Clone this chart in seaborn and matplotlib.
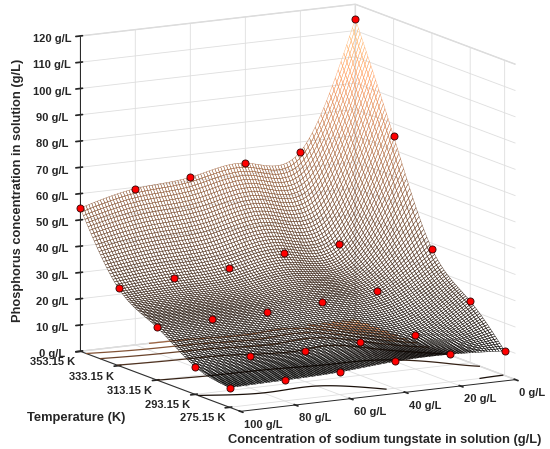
import numpy as np
import matplotlib
matplotlib.use("Agg")
import matplotlib.pyplot as plt
import seaborn as sns

# measured points: phosphorus (g/L) per temperature row, over concentration
concentration = [0, 20, 40, 60, 80, 100]
temperature = [275.15, 293.15, 313.15, 333.15, 353.15]
p_275 = [9.4, 10.5, 10.2, 8.6, 7.9, 7.5]
p_293 = [23.4, 13.1, 12.8, 11.6, 12.0, 10.5]
p_313 = [37.9, 24.3, 22.4, 21.2, 20.8, 20.1]
p_333 = [75.2, 36.6, 35.5, 32.4, 30.9, 29.4]
p_353 = [114.4, 66.3, 64.4, 61.4, 59.5, 54.5]

temp_labels = ["275.15 K", "293.15 K", "313.15 K", "333.15 K", "353.15 K"]
conc_ticks = [0, 20, 40, 60, 80, 100]
conc_labels = ["0 g/L", "20 g/L", "40 g/L", "60 g/L", "80 g/L", "100 g/L"]
z_ticks = list(range(0, 121, 10))
z_labels = [f"{v} g/L" for v in z_ticks]

P = np.array([p_275, p_293, p_313, p_333, p_353])


def spline(x, y, xq):
    # natural cubic spline
    x = np.asarray(x, float)
    y = np.asarray(y, float)
    n = len(x)
    h = np.diff(x)
    A = np.zeros((n, n))
    r = np.zeros(n)
    A[0, 0] = A[-1, -1] = 1
    for i in range(1, n - 1):
        A[i, i - 1] = h[i - 1]
        A[i, i] = 2 * (h[i - 1] + h[i])
        A[i, i + 1] = h[i]
        r[i] = 6 * ((y[i + 1] - y[i]) / h[i] - (y[i] - y[i - 1]) / h[i - 1])
    M = np.linalg.solve(A, r)
    k = np.clip(np.searchsorted(x, xq) - 1, 0, n - 2)
    x0, x1 = x[k], x[k + 1]
    hh = x1 - x0
    a, b = x1 - xq, xq - x0
    return (M[k] * a**3 / (6 * hh) + M[k + 1] * b**3 / (6 * hh)
            + (y[k] / hh - M[k] * hh / 6) * a + (y[k + 1] / hh - M[k + 1] * hh / 6) * b)


cq = np.linspace(0, 100, 97)
tq = np.linspace(275.15, 353.15, 97)
rows = np.array([spline(concentration, P[i], cq) for i in range(len(temperature))])
Z = np.array([spline(temperature, rows[:, j], tq) for j in range(len(cq))]).T
TT, CC = np.meshgrid(tq, cq, indexing="ij")

sns.set_theme(style="white")
plt.rcParams["font.family"] = ["Liberation Sans", "DejaVu Sans"]

cmap = sns.color_palette("copper", as_cmap=True)
norm = plt.Normalize(Z.min(), Z.max())
fc = cmap(norm(Z))

fig = plt.figure(figsize=(5.5, 4.49), dpi=100)
ax = fig.add_axes([-0.02, -0.002, 1.1, 1.05], projection="3d")
ax.set_proj_type("ortho")
ax.view_init(elev=12, azim=151)
ax.computed_zorder = False

ax.contour(TT, CC, Z, levels=10, zdir="z", offset=0, cmap=cmap, linewidths=0.9, zorder=1)

surf = ax.plot_surface(TT, CC, Z, facecolors=fc, shade=False,
                       rstride=1, cstride=1, linewidth=0.3, zorder=2)
surf.set_edgecolor(fc[:-1, :-1].reshape(-1, 4))
surf.set_facecolor((1, 1, 1, 0))

TP, CP = np.meshgrid(temperature, concentration, indexing="ij")
ax.scatter(TP.ravel(), CP.ravel(), P.ravel(), color="red", edgecolors="#300000",
           s=26, linewidths=0.6, depthshade=False, zorder=3)

ax.set_xlim(269.5, 353.15)
ax.set_ylim(0, 100)
ax.set_zlim(0, 120)
ax.set_box_aspect((1.05, 1, 1.025), zoom=1.15)

tick_kw = dict(fontsize=8, fontweight="bold", color="#262626")
ax.set_xticks(temperature)
ax.set_xticklabels(temp_labels, ha="right", va="top", **tick_kw)
ax.set_yticks(conc_ticks)
ax.set_yticklabels(conc_labels, ha="left", va="top", **tick_kw)
ax.set_zticks(z_ticks)
ax.set_zticklabels(z_labels, **tick_kw)
ax.zaxis.set_ticks_position("upper")
ax.tick_params(axis="x", pad=-5)
ax.tick_params(axis="y", pad=-4)

for axis in (ax.xaxis, ax.yaxis, ax.zaxis):
    axis.set_pane_color((1, 1, 1, 1))
    axis.pane.set_edgecolor("#d9d9d9")
    axis._axinfo["grid"]["color"] = "#dedede"
    axis._axinfo["grid"]["linewidth"] = 0.6
    axis.line.set_color("#262626")
    axis.line.set_linewidth(0.7)

lab_kw = dict(fontsize=9.3, fontweight="bold", color="#262626")
fig.text(0.033, 0.577, "Phosphorus concentration in solution (g/L)", rotation=90,
         ha="center", va="center", **lab_kw)
fig.text(0.138, 0.069, "Temperature (K)", ha="center", va="center", **lab_kw)
fig.text(0.70, 0.02, "Concentration of sodium tungstate in solution (g/L)",
         ha="center", va="center", **lab_kw)

fig.savefig("out.png", dpi=100)
